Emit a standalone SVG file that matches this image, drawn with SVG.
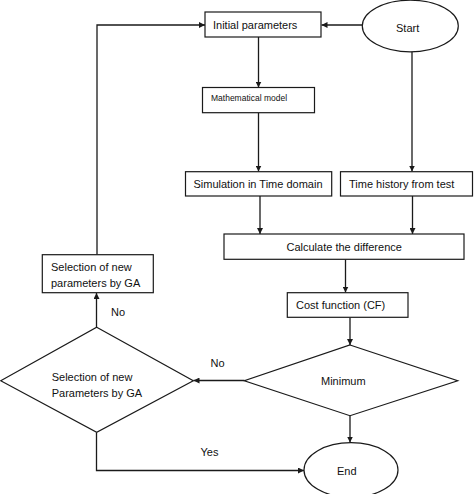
<svg xmlns="http://www.w3.org/2000/svg" width="474" height="494" viewBox="0 0 474 494">
<style>
.box{fill:#fff;stroke:#1a1a1a;stroke-width:1.2}
.c{fill:none;stroke:#1a1a1a;stroke-width:1.3}
text{font-family:"Liberation Sans",Arial,sans-serif;font-size:11px;fill:#111}
.sm{font-size:8.5px}
</style>
<defs>
<marker id="ah" viewBox="0 0 10 10" refX="10" refY="5" markerWidth="6" markerHeight="6" markerUnits="userSpaceOnUse" orient="auto">
<path d="M0,0 L10,5 L0,10 z" fill="#1a1a1a"/>
</marker>
</defs>
<rect width="474" height="494" fill="#fff"/>
<g id="connectors">
<line class="c" x1="362.5" y1="25" x2="321.5" y2="25" marker-end="url(#ah)"/>
<polyline class="c" points="97,254.5 97,25 205,25" marker-end="url(#ah)"/>
<line class="c" x1="258.5" y1="37" x2="258.5" y2="87.5" marker-end="url(#ah)"/>
<line class="c" x1="258.5" y1="113" x2="258.5" y2="171.5" marker-end="url(#ah)"/>
<line class="c" x1="412" y1="52" x2="412" y2="171.5" marker-end="url(#ah)"/>
<line class="c" x1="260" y1="196" x2="260" y2="234" marker-end="url(#ah)"/>
<line class="c" x1="412.5" y1="196" x2="412.5" y2="234" marker-end="url(#ah)"/>
<line class="c" x1="345.5" y1="259.5" x2="345.5" y2="292.5" marker-end="url(#ah)"/>
<line class="c" x1="350" y1="317.5" x2="350" y2="345" marker-end="url(#ah)"/>
<line class="c" x1="244.5" y1="380.5" x2="193.5" y2="380.5" marker-end="url(#ah)"/>
<line class="c" x1="96.5" y1="327.5" x2="96.5" y2="293" marker-end="url(#ah)"/>
<line class="c" x1="350" y1="415.5" x2="350" y2="442.5" marker-end="url(#ah)"/>
<polyline class="c" points="96.5,432.5 96.5,470.5 304,470.5" marker-end="url(#ah)"/>
<text x="111" y="316">No</text>
<text x="210.5" y="366.5">No</text>
<text x="200.5" y="456">Yes</text>
</g>
<g id="start">
<ellipse class="box" cx="410.3" cy="26" rx="48" ry="25.8"/>
<text x="396" y="32">Start</text>
</g>
<g id="initial">
<rect class="box" x="205" y="12" width="116" height="25"/>
<text x="213" y="28.5">Initial parameters</text>
</g>
<g id="math">
<rect class="box" x="202.5" y="87.5" width="112" height="25.2"/>
<text class="sm" x="211" y="100.5">Mathematical model</text>
</g>
<g id="simulation">
<rect class="box" x="185.5" y="171.7" width="146.2" height="24.3"/>
<text x="193.5" y="187.5">Simulation in Time domain</text>
</g>
<g id="history">
<rect class="box" x="340.5" y="171.7" width="132" height="24.3"/>
<text x="349" y="187.5">Time history from test</text>
</g>
<g id="calculate">
<rect class="box" x="224" y="234" width="240" height="25.3"/>
<text x="286.5" y="250.5">Calculate the difference</text>
</g>
<g id="cost">
<rect class="box" x="287.3" y="292.7" width="120.7" height="24.6"/>
<text x="296" y="309">Cost function (CF)</text>
</g>
<g id="selection-box">
<rect class="box" x="42.3" y="254.7" width="111" height="38"/>
<text x="51" y="271">Selection of new</text>
<text x="51" y="286.5">parameters by GA</text>
</g>
<g id="selection-diamond">
<polygon class="box" points="96.7,327.3 193.3,380.7 96.7,432.3 0.7,380.7"/>
<text x="51.7" y="381">Selection of new</text>
<text x="51.7" y="396.5">Parameters by GA</text>
</g>
<g id="minimum">
<polygon class="box" points="350,345 457.7,380.7 350,415.7 244.3,380.7"/>
<text x="321" y="385">Minimum</text>
</g>
<g id="end">
<ellipse class="box" cx="351" cy="470" rx="47" ry="27.3"/>
<text x="337" y="475">End</text>
</g>
</svg>
